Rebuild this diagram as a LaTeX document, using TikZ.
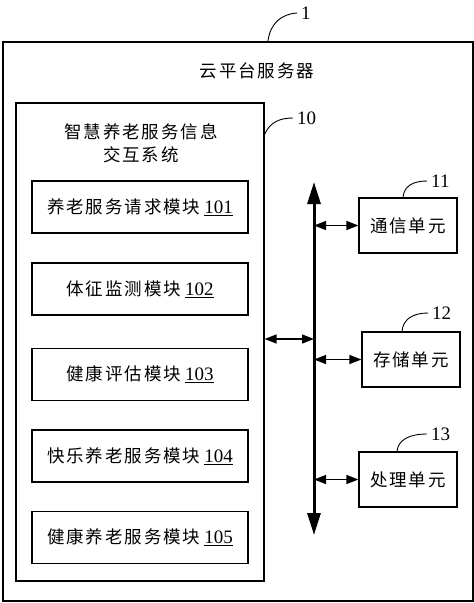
\documentclass[tikz,border=0pt]{standalone}
\usepackage{fontspec}
\setmainfont{Liberation Serif}
\newfontfamily\cjk[LetterSpace=11]{Noto Sans CJK SC}
\usetikzlibrary{arrows.meta}

\newcommand{\modnum}[1]{\hspace{4pt}{\rmfamily\fontsize{19}{22}\selectfont\underline{#1}}}

\tikzset{
	zh/.style = {font=\cjk\fontsize{17.5}{23}\selectfont},
	modbox/.style = {draw, zh, line width=1.2pt, minimum width=216pt, minimum height=52pt},
	unitbox/.style = {draw, zh, line width=1.2pt, minimum width=98pt, minimum height=55pt},
	tag/.style = {font=\fontsize{19}{22}\selectfont, inner sep=4pt, anchor=west},
	leader/.style = {line width=0.9pt},
	link/.style = {line width=1.3pt, {Triangle[length=12pt,width=9pt]}-{Triangle[length=12pt,width=9pt]}},
}

\begin{document}
\begin{tikzpicture}[x=1pt, y=-1pt]
\useasboundingbox (0,0) rectangle (474,603);

% server and system
\node[draw, line width=2pt, minimum width=470pt, minimum height=559pt] (server) at (238,321.5) {};
\node[zh] (servertitle) at (257,71) {云平台服务器};
\node[draw, line width=1.2pt, minimum width=248pt, minimum height=478pt] (system) at (140,342) {};
\node[zh, align=center] (systitle) at (141,143.5) {智慧养老服务信息\\交互系统};

% modules
\node[modbox] (m101) at (140,207) {养老服务请求模块\modnum{101}};
\node[modbox] (m102) at (140,289) {体征监测模块\modnum{102}};
\node[modbox] (m103) at (140,374.5) {健康评估模块\modnum{103}};
\node[modbox] (m104) at (140,456) {快乐养老服务模块\modnum{104}};
\node[modbox] (m105) at (140,537.5) {健康养老服务模块\modnum{105}};

% units
\node[unitbox] (u11) at (408,225.5) {通信单元};
\node[unitbox] (u12) at (411,359.5) {存储单元};
\node[unitbox] (u13) at (408,479.5) {处理单元};

% reference numbers
\node[tag] (n1) at (297,13) {1};
\node[tag] (n10) at (293,118) {10};
\node[tag] (n11) at (427,181) {11};
\node[tag] (n12) at (428,313) {12};
\node[tag] (n13) at (427,434) {13};

\draw[leader] ([xshift=30pt]server.north) .. controls (270,24) and (281,14) .. (n1.west);
\draw[leader] ([yshift=-32pt]system.north east) .. controls (270,122) and (280,118) .. (n10.west);
\draw[leader] ([xshift=-5pt]u11.north) .. controls (404,186) and (413,181) .. (n11.west);
\draw[leader] ([xshift=-9pt]u12.north) .. controls (403,319) and (413,313) .. (n12.west);
\draw[leader] ([xshift=-11pt]u13.north) .. controls (398,440) and (409,434) .. (n13.west);

% bus
\coordinate (busTop) at (314,182);
\coordinate (busBot) at (314,535);
\draw[link] ([yshift=3pt]system.east) -- ([yshift=3pt]system.east -| busTop);
\draw[link] (u11.west -| busTop) -- (u11.west);
\draw[link] (u12.west -| busTop) -- (u12.west);
\draw[link] (u13.west -| busTop) -- (u13.west);
\draw[line width=3pt, {Triangle[length=22pt,width=13pt]}-{Triangle[length=22pt,width=13pt]}] (busTop) -- (busBot);
\end{tikzpicture}
\end{document}
